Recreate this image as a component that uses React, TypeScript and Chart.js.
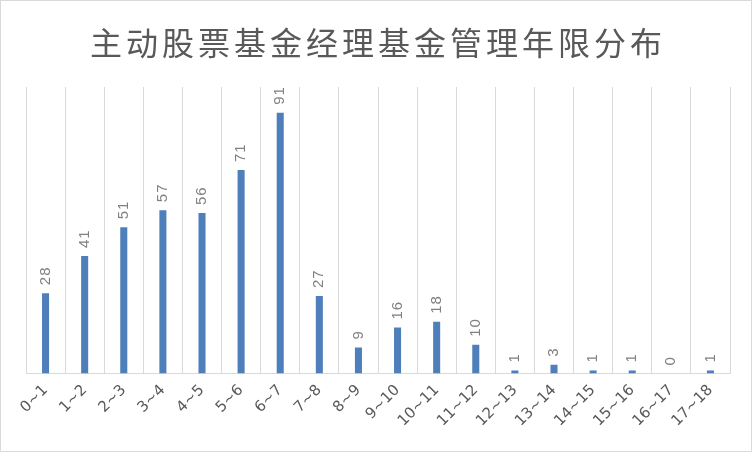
import React, { useEffect, useRef } from "react";
import { Chart, registerables } from "chart.js";

Chart.register(...registerables);

const chartTitle = "主动股票基金经理基金管理年限分布";
const categories = [
  "0~1", "1~2", "2~3", "3~4", "4~5", "5~6", "6~7", "7~8", "8~9",
  "9~10", "10~11", "11~12", "12~13", "13~14", "14~15", "15~16", "16~17", "17~18",
];
const counts = [28, 41, 51, 57, 56, 71, 91, 27, 9, 16, 18, 10, 1, 3, 1, 1, 0, 1];

const titlePlugin = {
  id: "spacedTitle",
  afterDraw(chart: any) {
    const ctx = chart.ctx;
    ctx.save();
    ctx.font = '400 32px "Noto Sans CJK SC", sans-serif';
    (ctx as any).letterSpacing = "4px";
    ctx.fillStyle = "#595959";
    ctx.textAlign = "center";
    ctx.textBaseline = "middle";
    ctx.fillText(chartTitle, chart.width / 2 + 2, 42);
    ctx.restore();
  },
};

const valueLabelPlugin = {
  id: "valueLabels",
  afterDatasetsDraw(chart: any) {
    const ctx = chart.ctx;
    const meta = chart.getDatasetMeta(0);
    const data = chart.data.datasets[0].data;
    ctx.save();
    ctx.font = '15px "Liberation Sans", "DejaVu Sans", sans-serif';
    (ctx as any).letterSpacing = "1px";
    ctx.fillStyle = "#808080";
    meta.data.forEach((bar: any, i: number) => {
      ctx.save();
      ctx.translate(bar.x, bar.y - 8);
      ctx.rotate(-Math.PI / 2);
      ctx.textAlign = "left";
      ctx.textBaseline = "middle";
      ctx.fillText(String(data[i]), 0, 0);
      ctx.restore();
    });
    ctx.restore();
  },
};

export default function App() {
  const ref = useRef<HTMLCanvasElement>(null);
  useEffect(() => {
    document.body.style.margin = "0";
    const chart = new Chart(ref.current!, {
      type: "bar",
      data: {
        labels: categories,
        datasets: [
          {
            data: counts,
            backgroundColor: "#4f7fba",
            categoryPercentage: 1,
            barPercentage: 0.18,
          },
        ],
      },
      options: {
        responsive: false,
        animation: false,
        devicePixelRatio: 1,
        layout: { padding: { top: 86, left: 25, right: 21, bottom: 13 } },
        plugins: {
          legend: { display: false },
          title: { display: false },
          tooltip: { enabled: false },
        },
        scales: {
          y: {
            display: false,
            min: 0,
            max: 100,
          },
          x: {
            grid: {
              offset: true,
              color: "#d9d9d9",
              lineWidth: 1,
              drawTicks: false,
            },
            border: { color: "#d9d9d9", width: 1 },
            ticks: {
              color: "#595959",
              font: { family: '"DejaVu Sans", "Liberation Sans", sans-serif', size: 15 },
              maxRotation: 45,
              minRotation: 45,
              padding: 8,
            },
          },
        },
      },
      plugins: [titlePlugin, valueLabelPlugin],
    });
    return () => chart.destroy();
  }, []);
  return (
    <div
      style={{
        width: 752,
        height: 452,
        boxSizing: "border-box",
        border: "1px solid #d9d9d9",
        background: "#fff",
        overflow: "hidden",
      }}
    >
      <canvas ref={ref} width={750} height={450} style={{ display: "block" }} />
    </div>
  );
}
